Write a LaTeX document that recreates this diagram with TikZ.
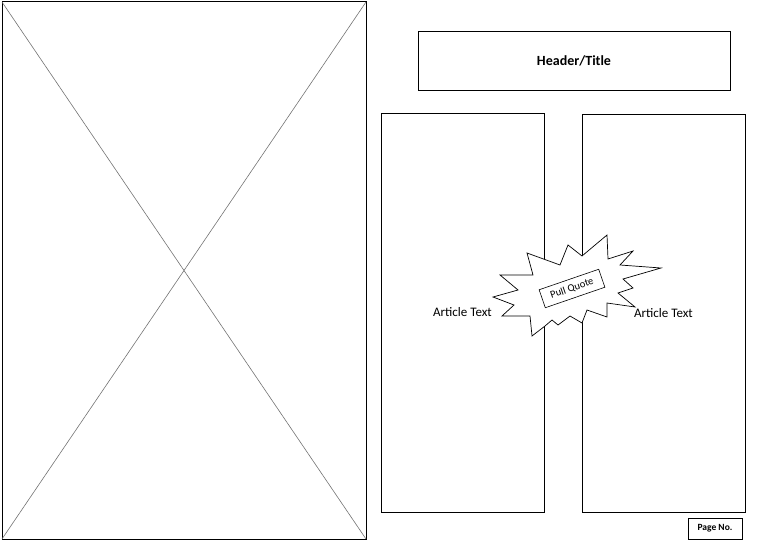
\documentclass[tikz,border=0pt]{standalone}
\usepackage{fontspec}
\setmainfont{Carlito}
\begin{document}
\begin{tikzpicture}
	[x=1pt,y=-1pt,
	every node/.style={inner sep=1pt,outer sep=0},
	frame/.style={shape=rectangle,draw,line width=.8pt},
	body/.style={font=\fontsize{13}{15}\selectfont}]
	\useasboundingbox (0,0) rectangle (768,543);
	\node[frame,line width=1pt,minimum width=364pt,minimum height=537pt] (photo)  at (184,270.5)   {} ;
	\node[frame,minimum width=312pt,minimum height=59pt,font=\fontsize{14}{16}\selectfont\bfseries]
	                                                                      (head)   at (574,60.5)    {Header/Title} ;
	\node[frame,minimum width=163pt,minimum height=399pt]                 (lcol)   at (462.5,312.5) {} ;
	\node[frame,minimum width=163pt,minimum height=398pt]                 (rcol)   at (663.5,313)   {} ;
	\node[frame,minimum width=54pt,minimum height=21pt,font=\fontsize{9.5}{11}\selectfont\bfseries]
	                                                                      (pageno) at (715,528.5)   {Page No.} ;
	\draw[line width=.6pt,color=black!55]
	(photo.north west) -- (photo.south east)
	(photo.north east) -- (photo.south west) ;
	\filldraw[fill=white,line width=.7pt]
	(527,253) -- (560,265) -- (568,245) -- (582,256) -- (607,235) -- (608,259)
	-- (633,251) -- (620,265) -- (661,268) -- (623,279) -- (633,288) -- (618,293)
	-- (635,307) -- (607,303) -- (607,317) -- (587,310) -- (582,323) -- (570,316)
	-- (558,325) -- (552,320) -- (545,326) -- (532,336) -- (530,316) -- (502,316)
	-- (514,305) -- (493,297) -- (518,290) -- (500,275) -- (533,275) -- cycle ;
	\node[body] (ltext) at (lcol.center) {Article Text} ;
	\node[body] (rtext) at (rcol.center) {Article Text} ;
	\node[draw,line width=.6pt,rotate=19,minimum width=63pt,minimum height=19pt,font=\fontsize{10.5}{12}\selectfont]
	(quote) at (572,288.5) {Pull Quote} ;
\end{tikzpicture}
\end{document}
